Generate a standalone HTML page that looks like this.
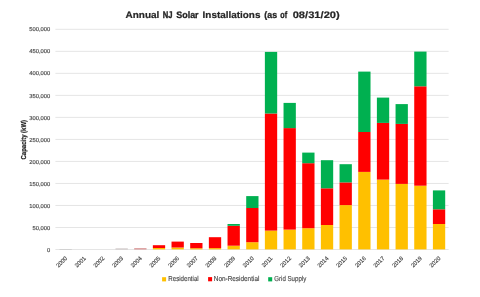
<!DOCTYPE html><html><head><meta charset="utf-8"><style>html,body{margin:0;padding:0;background:#fff;width:480px;height:297px;overflow:hidden}svg{display:block;will-change:transform}text{font-family:"Liberation Sans",sans-serif;text-rendering:geometricPrecision}</style></head><body>
<svg width="480" height="297" viewBox="0 0 480 297">
<rect x="0" y="0" width="480" height="297" fill="#fff"/>
<g class="chart">
<rect x="55.4" y="249.00" width="393.20" height="1" fill="#E5E5E5"/>
<rect x="55.4" y="226.98" width="393.20" height="1" fill="#E5E5E5"/>
<rect x="55.4" y="204.96" width="393.20" height="1" fill="#E5E5E5"/>
<rect x="55.4" y="182.94" width="393.20" height="1" fill="#E5E5E5"/>
<rect x="55.4" y="160.92" width="393.20" height="1" fill="#E5E5E5"/>
<rect x="55.4" y="138.90" width="393.20" height="1" fill="#E5E5E5"/>
<rect x="55.4" y="116.88" width="393.20" height="1" fill="#E5E5E5"/>
<rect x="55.4" y="94.86" width="393.20" height="1" fill="#E5E5E5"/>
<rect x="55.4" y="72.84" width="393.20" height="1" fill="#E5E5E5"/>
<rect x="55.4" y="50.82" width="393.20" height="1" fill="#E5E5E5"/>
<rect x="55.4" y="28.80" width="393.20" height="1" fill="#E5E5E5"/>
<text x="50.3" y="251.65" font-size="5.8" fill="#484848" stroke="#484848" stroke-width="0.15" text-anchor="end">0</text>
<text x="50.3" y="229.63" font-size="5.8" fill="#484848" stroke="#484848" stroke-width="0.15" text-anchor="end">50,000</text>
<text x="50.3" y="207.61" font-size="5.8" fill="#484848" stroke="#484848" stroke-width="0.15" text-anchor="end">100,000</text>
<text x="50.3" y="185.59" font-size="5.8" fill="#484848" stroke="#484848" stroke-width="0.15" text-anchor="end">150,000</text>
<text x="50.3" y="163.57" font-size="5.8" fill="#484848" stroke="#484848" stroke-width="0.15" text-anchor="end">200,000</text>
<text x="50.3" y="141.55" font-size="5.8" fill="#484848" stroke="#484848" stroke-width="0.15" text-anchor="end">250,000</text>
<text x="50.3" y="119.53" font-size="5.8" fill="#484848" stroke="#484848" stroke-width="0.15" text-anchor="end">300,000</text>
<text x="50.3" y="97.51" font-size="5.8" fill="#484848" stroke="#484848" stroke-width="0.15" text-anchor="end">350,000</text>
<text x="50.3" y="75.49" font-size="5.8" fill="#484848" stroke="#484848" stroke-width="0.15" text-anchor="end">400,000</text>
<text x="50.3" y="53.47" font-size="5.8" fill="#484848" stroke="#484848" stroke-width="0.15" text-anchor="end">450,000</text>
<text x="50.3" y="31.45" font-size="5.8" fill="#484848" stroke="#484848" stroke-width="0.15" text-anchor="end">500,000</text>
<rect x="152.85" y="248.00" width="12.3" height="1.40" fill="#FFC000"/>
<rect x="152.85" y="245.20" width="12.3" height="2.80" fill="#FF0000"/>
<rect x="171.52" y="247.50" width="12.3" height="1.90" fill="#FFC000"/>
<rect x="171.52" y="241.60" width="12.3" height="5.90" fill="#FF0000"/>
<rect x="190.19" y="248.20" width="12.3" height="1.20" fill="#FFC000"/>
<rect x="190.19" y="243.00" width="12.3" height="5.20" fill="#FF0000"/>
<rect x="208.86" y="248.10" width="12.3" height="1.30" fill="#FFC000"/>
<rect x="208.86" y="237.20" width="12.3" height="10.90" fill="#FF0000"/>
<rect x="227.53" y="245.70" width="12.3" height="3.70" fill="#FFC000"/>
<rect x="227.53" y="225.80" width="12.3" height="19.90" fill="#FF0000"/>
<rect x="227.53" y="224.00" width="12.3" height="1.80" fill="#00B050"/>
<rect x="246.20" y="242.20" width="12.3" height="7.20" fill="#FFC000"/>
<rect x="246.20" y="208.00" width="12.3" height="34.20" fill="#FF0000"/>
<rect x="246.20" y="196.10" width="12.3" height="11.90" fill="#00B050"/>
<rect x="264.87" y="230.60" width="12.3" height="18.80" fill="#FFC000"/>
<rect x="264.87" y="113.50" width="12.3" height="117.10" fill="#FF0000"/>
<rect x="264.87" y="51.90" width="12.3" height="61.60" fill="#00B050"/>
<rect x="283.54" y="229.60" width="12.3" height="19.80" fill="#FFC000"/>
<rect x="283.54" y="128.10" width="12.3" height="101.50" fill="#FF0000"/>
<rect x="283.54" y="102.90" width="12.3" height="25.20" fill="#00B050"/>
<rect x="302.21" y="228.20" width="12.3" height="21.20" fill="#FFC000"/>
<rect x="302.21" y="163.20" width="12.3" height="65.00" fill="#FF0000"/>
<rect x="302.21" y="152.60" width="12.3" height="10.60" fill="#00B050"/>
<rect x="320.88" y="225.00" width="12.3" height="24.40" fill="#FFC000"/>
<rect x="320.88" y="188.30" width="12.3" height="36.70" fill="#FF0000"/>
<rect x="320.88" y="160.20" width="12.3" height="28.10" fill="#00B050"/>
<rect x="339.55" y="205.10" width="12.3" height="44.30" fill="#FFC000"/>
<rect x="339.55" y="182.40" width="12.3" height="22.70" fill="#FF0000"/>
<rect x="339.55" y="164.20" width="12.3" height="18.20" fill="#00B050"/>
<rect x="358.22" y="171.90" width="12.3" height="77.50" fill="#FFC000"/>
<rect x="358.22" y="132.00" width="12.3" height="39.90" fill="#FF0000"/>
<rect x="358.22" y="71.60" width="12.3" height="60.40" fill="#00B050"/>
<rect x="376.89" y="179.60" width="12.3" height="69.80" fill="#FFC000"/>
<rect x="376.89" y="122.90" width="12.3" height="56.70" fill="#FF0000"/>
<rect x="376.89" y="97.60" width="12.3" height="25.30" fill="#00B050"/>
<rect x="395.56" y="183.90" width="12.3" height="65.50" fill="#FFC000"/>
<rect x="395.56" y="123.90" width="12.3" height="60.00" fill="#FF0000"/>
<rect x="395.56" y="104.10" width="12.3" height="19.80" fill="#00B050"/>
<rect x="414.23" y="185.70" width="12.3" height="63.70" fill="#FFC000"/>
<rect x="414.23" y="86.30" width="12.3" height="99.40" fill="#FF0000"/>
<rect x="414.23" y="51.60" width="12.3" height="34.70" fill="#00B050"/>
<rect x="432.90" y="224.00" width="12.3" height="25.40" fill="#FFC000"/>
<rect x="432.90" y="209.30" width="12.3" height="14.70" fill="#FF0000"/>
<rect x="432.90" y="190.40" width="12.3" height="18.90" fill="#00B050"/>
<rect x="59.5" y="249" width="12.3" height="1" fill="#D2D2D2"/>
<rect x="115.5" y="248.4" width="12.3" height="1.1" fill="#CCC4C4"/>
<rect x="134.2" y="248.2" width="12.3" height="1.3" fill="#D89090"/>
<text x="67.55" y="258.70" font-size="5.8" fill="#484848" stroke="#484848" stroke-width="0.15" text-anchor="end" transform="rotate(-45 67.55 258.70)">2000</text>
<text x="86.22" y="258.70" font-size="5.8" fill="#484848" stroke="#484848" stroke-width="0.15" text-anchor="end" transform="rotate(-45 86.22 258.70)">2001</text>
<text x="104.89" y="258.70" font-size="5.8" fill="#484848" stroke="#484848" stroke-width="0.15" text-anchor="end" transform="rotate(-45 104.89 258.70)">2002</text>
<text x="123.56" y="258.70" font-size="5.8" fill="#484848" stroke="#484848" stroke-width="0.15" text-anchor="end" transform="rotate(-45 123.56 258.70)">2003</text>
<text x="142.23" y="258.70" font-size="5.8" fill="#484848" stroke="#484848" stroke-width="0.15" text-anchor="end" transform="rotate(-45 142.23 258.70)">2004</text>
<text x="160.90" y="258.70" font-size="5.8" fill="#484848" stroke="#484848" stroke-width="0.15" text-anchor="end" transform="rotate(-45 160.90 258.70)">2005</text>
<text x="179.57" y="258.70" font-size="5.8" fill="#484848" stroke="#484848" stroke-width="0.15" text-anchor="end" transform="rotate(-45 179.57 258.70)">2006</text>
<text x="198.24" y="258.70" font-size="5.8" fill="#484848" stroke="#484848" stroke-width="0.15" text-anchor="end" transform="rotate(-45 198.24 258.70)">2007</text>
<text x="216.91" y="258.70" font-size="5.8" fill="#484848" stroke="#484848" stroke-width="0.15" text-anchor="end" transform="rotate(-45 216.91 258.70)">2008</text>
<text x="235.58" y="258.70" font-size="5.8" fill="#484848" stroke="#484848" stroke-width="0.15" text-anchor="end" transform="rotate(-45 235.58 258.70)">2009</text>
<text x="254.25" y="258.70" font-size="5.8" fill="#484848" stroke="#484848" stroke-width="0.15" text-anchor="end" transform="rotate(-45 254.25 258.70)">2010</text>
<text x="272.92" y="258.70" font-size="5.8" fill="#484848" stroke="#484848" stroke-width="0.15" text-anchor="end" transform="rotate(-45 272.92 258.70)">2011</text>
<text x="291.59" y="258.70" font-size="5.8" fill="#484848" stroke="#484848" stroke-width="0.15" text-anchor="end" transform="rotate(-45 291.59 258.70)">2012</text>
<text x="310.26" y="258.70" font-size="5.8" fill="#484848" stroke="#484848" stroke-width="0.15" text-anchor="end" transform="rotate(-45 310.26 258.70)">2013</text>
<text x="328.93" y="258.70" font-size="5.8" fill="#484848" stroke="#484848" stroke-width="0.15" text-anchor="end" transform="rotate(-45 328.93 258.70)">2014</text>
<text x="347.60" y="258.70" font-size="5.8" fill="#484848" stroke="#484848" stroke-width="0.15" text-anchor="end" transform="rotate(-45 347.60 258.70)">2015</text>
<text x="366.27" y="258.70" font-size="5.8" fill="#484848" stroke="#484848" stroke-width="0.15" text-anchor="end" transform="rotate(-45 366.27 258.70)">2016</text>
<text x="384.94" y="258.70" font-size="5.8" fill="#484848" stroke="#484848" stroke-width="0.15" text-anchor="end" transform="rotate(-45 384.94 258.70)">2017</text>
<text x="403.61" y="258.70" font-size="5.8" fill="#484848" stroke="#484848" stroke-width="0.15" text-anchor="end" transform="rotate(-45 403.61 258.70)">2018</text>
<text x="422.28" y="258.70" font-size="5.8" fill="#484848" stroke="#484848" stroke-width="0.15" text-anchor="end" transform="rotate(-45 422.28 258.70)">2019</text>
<text x="440.95" y="258.70" font-size="5.8" fill="#484848" stroke="#484848" stroke-width="0.15" text-anchor="end" transform="rotate(-45 440.95 258.70)">2020</text>
<text x="0" y="0" font-size="7.2" font-weight="bold" fill="#262626" stroke="#262626" stroke-width="0.2" text-anchor="middle" textLength="39.5" lengthAdjust="spacingAndGlyphs" transform="translate(25.7 139.7) rotate(-90)">Capacity (kW)</text>
<rect x="162.1" y="277.2" width="4" height="4.2" fill="#FFC000"/>
<rect x="208.1" y="277.1" width="4" height="4.2" fill="#FF0000"/>
<rect x="268.2" y="277.2" width="4" height="4.2" fill="#00B050"/>
</g>
<text x="125.40" y="17.80" font-size="9.4" font-weight="bold" fill="#262626" stroke="#262626" stroke-width="0.2" textLength="34.00" lengthAdjust="spacingAndGlyphs">Annual</text>
<text x="162.70" y="17.80" font-size="9.4" font-weight="bold" fill="#262626" stroke="#262626" stroke-width="0.4" textLength="9.70" lengthAdjust="spacingAndGlyphs">NJ</text>
<text x="176.30" y="17.80" font-size="9.4" font-weight="bold" fill="#262626" stroke="#262626" stroke-width="0.3" textLength="22.30" lengthAdjust="spacingAndGlyphs">Solar</text>
<text x="202.60" y="17.80" font-size="9.4" font-weight="bold" fill="#262626" stroke="#262626" stroke-width="0.2" textLength="57.80" lengthAdjust="spacingAndGlyphs">Installations</text>
<text x="264.36" y="17.80" font-size="9.4" font-weight="bold" fill="#262626" stroke="#262626" stroke-width="0.3" textLength="12.74" lengthAdjust="spacingAndGlyphs">(as</text>
<text x="280.30" y="17.80" font-size="9.4" font-weight="bold" fill="#262626" stroke="#262626" stroke-width="0.4" textLength="6.76" lengthAdjust="spacingAndGlyphs">of</text>
<text x="292.70" y="17.80" font-size="9.4" font-weight="bold" fill="#262626" stroke="#262626" stroke-width="0.2" textLength="47.04" lengthAdjust="spacingAndGlyphs">08/31/20)</text>
<text x="168.30" y="281.40" font-size="7.2" fill="#484848" stroke="#484848" stroke-width="0.15" textLength="30.40" lengthAdjust="spacingAndGlyphs">Residential</text>
<text x="213.75" y="281.40" font-size="7.2" fill="#484848" stroke="#484848" stroke-width="0.15" textLength="45.63" lengthAdjust="spacingAndGlyphs">Non-Residential</text>
<text x="274.30" y="281.40" font-size="7.2" fill="#484848" stroke="#484848" stroke-width="0.15" textLength="31.90" lengthAdjust="spacingAndGlyphs">Grid Supply</text>
</svg></body></html>
